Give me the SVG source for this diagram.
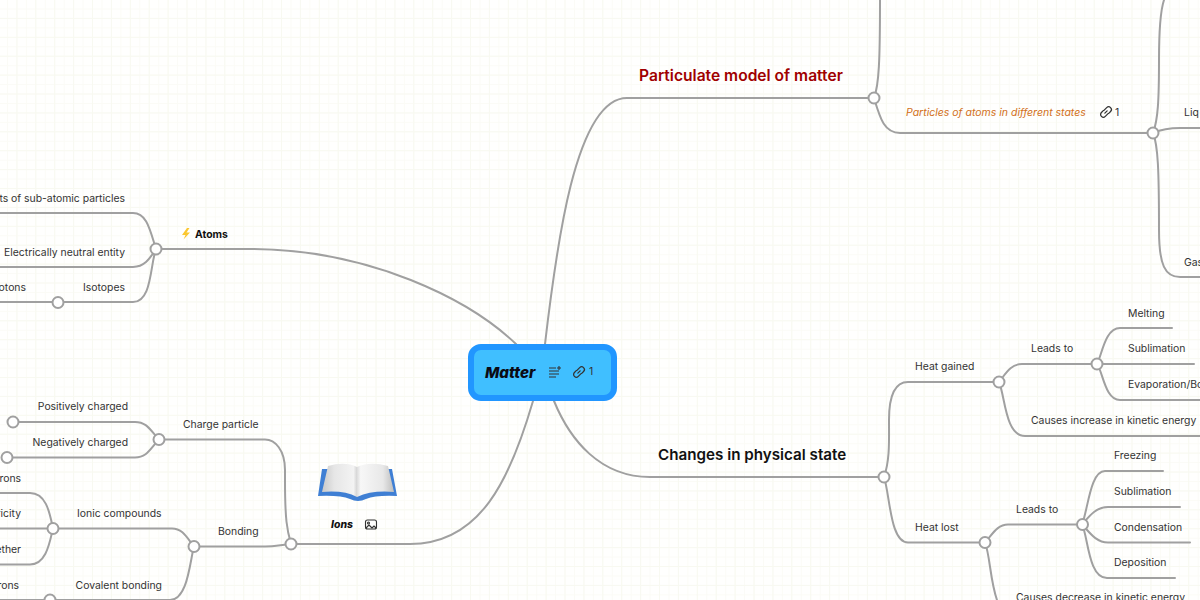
<svg xmlns="http://www.w3.org/2000/svg" width="1200" height="600" viewBox="0 0 1200 600">
<style>
.e{fill:none;stroke:#a0a0a0;stroke-width:2;stroke-linecap:round}
.k{fill:#fff;stroke:#a0a0a0;stroke-width:2}
text{font-family:Inter,"Liberation Sans",sans-serif;font-size:10.400px;fill:#333}
.r{text-anchor:end}
.ic{fill:none;stroke:#333;stroke-width:1.100;stroke-linecap:round;stroke-linejoin:round}
</style>
<defs>
<pattern id="g" width="9.45" height="9.45" patternUnits="userSpaceOnUse" x="-1.5" y="0">
<path d="M9 0V9.45M0 9H9.45" fill="none" stroke="#fbfbf6" stroke-width="1"/>
</pattern>
<pattern id="G" width="18.9" height="18.9" patternUnits="userSpaceOnUse" x="-1.5" y="0">
<path d="M18.400 0V18.900M0 18.400H18.900" fill="none" stroke="#f8f9f1" stroke-width="1"/>
</pattern>
<symbol id="link" viewBox="0 0 14 14" overflow="visible">
<path class="ic" d="M6 8 L8 6 M5.200 5.600 L7.600 3.200 a2.400 2.400 0 0 1 3.400 3.400 L9.400 8.200 M8.800 8.400 L6.400 10.800 a2.400 2.400 0 0 1-3.400-3.400 L4.600 5.800"/>
</symbol>
<linearGradient id="pl" x1="0" y1="0" x2="1" y2="0"><stop offset="0" stop-color="#c9c9c9"/><stop offset=".35" stop-color="#e6e6e6"/><stop offset=".9" stop-color="#f3f3f3"/><stop offset="1" stop-color="#d4d4d4"/></linearGradient>
<linearGradient id="pr" x1="0" y1="0" x2="1" y2="0"><stop offset="0" stop-color="#dcdcdc"/><stop offset=".1" stop-color="#f7f7f7"/><stop offset=".7" stop-color="#e8e8e8"/><stop offset="1" stop-color="#bdbdbd"/></linearGradient>
</defs>
<rect width="1200" height="600" fill="#fffffe"/>
<rect width="1200" height="600" fill="url(#g)"/>
<rect width="1200" height="600" fill="url(#G)"/>
<g id="connectors">
<path class="e" d="M545 344C556 250 575 98 627 98H874"/>
<path class="e" d="M874 98C879 85 880 60 880 0"/>
<path class="e" d="M874 98C880 118 884 133 900 133H1153"/>
<path class="e" d="M1153 133C1158 120 1159 100 1159 60C1159 30 1160 12 1164 0"/>
<path class="e" d="M1153 133C1160 130 1170 128 1180 128H1200"/>
<path class="e" d="M1153 133C1158 145 1159 170 1159 230C1159 265 1165 277 1180 277H1200"/>
<path class="e" d="M516 344C470 300 370 249 250 249H156"/>
<path class="e" d="M156 249C150 230 147 213 133 213H0"/>
<path class="e" d="M156 249C150 258 145 267 133 267H0"/>
<path class="e" d="M156 249C150 265 152 302 133 302H0"/>
<path class="e" d="M533 401C510 480 480 544 410 544H291"/>
<path class="e" d="M291 544C287 530 285 520 285 480V470C285 450 275 439.500 265 439.500H159"/>
<path class="e" d="M291 544C280 545 275 546.500 265 546.500H194"/>
<path class="e" d="M159 439.500C150 430 147 422 135 422H13"/>
<path class="e" d="M159 439.500C150 449 147 457.500 135 457.500H7"/>
<path class="e" d="M194 546.500C187 538 183 528.500 172 528.500H53"/>
<path class="e" d="M194 546.500C190 560 188 600 170 600H0"/>
<path class="e" d="M53 528.500C50 515 47 493 30 493H0"/>
<path class="e" d="M53 528.500H0"/>
<path class="e" d="M53 528.500C50 540 47 564.500 30 564.500H0"/>
<path class="e" d="M554 401C570 440 600 477 650 477H884"/>
<path class="e" d="M884 477C890 460 889 440 889 420C889 395 895 382 908 382H999"/>
<path class="e" d="M999 382C1005 375 1010 364 1022 364H1097"/>
<path class="e" d="M1097 364C1102 355 1105 328 1120 328H1172"/>
<path class="e" d="M1097 364H1194"/>
<path class="e" d="M1097 364C1103 372 1105 400 1120 400H1200"/>
<path class="e" d="M999 382C1005 395 1005 436 1025 436H1200"/>
<path class="e" d="M884 477C890 495 890 542.500 908 542.500H985"/>
<path class="e" d="M985 542.500C992 535 997 524.500 1008 524.500H1082"/>
<path class="e" d="M1082 524.500C1088 510 1090 471 1105 471H1163"/>
<path class="e" d="M1082 524.500C1088 518 1095 507 1108 507H1180"/>
<path class="e" d="M1082 524.500C1088 530 1095 542.500 1108 542.500H1190"/>
<path class="e" d="M1082 524.500C1088 535 1088 578 1107 578H1175"/>
<path class="e" d="M985 542.500C990 555 990 580 997 600"/>
</g>
<g id="n-matter">
<rect x="471" y="347" width="143" height="51" rx="10" fill="#40bfff" stroke="#2196ff" stroke-width="6"/>
<text x="485" y="377.500" style="font-size:15.200px;font-weight:800;font-style:italic;fill:#0b0b14">Matter</text>
<path d="M549 368H556M549 371H559M549 374H559M549 377H556M559 366V370M557 368H561" fill="none" stroke="#333" stroke-width="1.100"/>
<use href="#link" x="571" y="364" width="16" height="16"/>
<text x="589" y="375">1</text>
</g>
<g id="n-particulate"><text x="639" y="81" style="font-size:15.600px;font-weight:600;fill:#a00000">Particulate model of matter</text><circle class="k" cx="874" cy="98" r="5.500"/></g>
<g id="n-states"><text x="906" y="116" style="font-size:10.500px;font-style:italic;fill:#d2701a">Particles of atoms in different states</text><use href="#link" x="1098" y="104" width="16" height="16"/><text x="1115" y="116">1</text><circle class="k" cx="1153" cy="133" r="5.500"/></g>
<g id="n-liquid"><text x="1184" y="116">Liq</text></g>
<g id="n-gas"><text x="1184" y="266">Gas</text></g>
<g id="n-atoms"><path d="M187 228L182 235H185.500L183.500 239.500L190 232.500H186.500L189.500 228Z" fill="#fbc72e"/><text x="195" y="238" style="font-weight:700;fill:#111">Atoms</text><circle class="k" cx="156" cy="249" r="5.500"/></g>
<g id="n-sub"><text class="r" x="125" y="202">ts of sub-atomic particles</text></g>
<g id="n-neutral"><text class="r" x="125" y="256">Electrically neutral entity</text></g>
<g id="n-isotopes"><text class="r" x="125" y="291">Isotopes</text><circle class="k" cx="58" cy="302.500" r="5.500"/></g>
<g id="n-protons"><text class="r" x="26" y="291">otons</text></g>
<g id="n-ions">
<path d="M322 469L318 496Q340 495 350 499Q358 503 366 499Q376 495 397 496L392 469Z" fill="#3f7fd4"/>
<path d="M328 466Q345 461 357 467V497Q344 490 322 492Z" fill="url(#pl)"/>
<path d="M357 467Q370 461 388 466L394 492Q372 490 357 497Z" fill="url(#pr)"/>
<text x="331" y="528" style="font-weight:800;font-style:italic;fill:#111">Ions</text>
<rect x="365.500" y="520" width="11" height="9" rx="2" class="ic"/><circle cx="368.500" cy="523" r="1" class="ic"/><path d="M366 528L369 525L372 528L374 526L376 528" class="ic"/>
<circle class="k" cx="291" cy="544" r="5.500"/></g>
<g id="n-charge"><text x="183" y="428">Charge particle</text><circle class="k" cx="159" cy="439.500" r="5.500"/></g>
<g id="n-pos"><text class="r" x="128" y="410">Positively charged</text><circle class="k" cx="13" cy="422" r="5.500"/></g>
<g id="n-neg"><text class="r" x="128" y="446">Negatively charged</text><circle class="k" cx="7" cy="457.500" r="5.500"/></g>
<g id="n-bonding"><text x="218" y="535">Bonding</text><circle class="k" cx="194" cy="546.500" r="5.500"/></g>
<g id="n-ionic"><text x="77" y="517">Ionic compounds</text><circle class="k" cx="53" cy="528.500" r="5.500"/></g>
<g id="n-f1"><text class="r" x="21" y="482">rons</text></g>
<g id="n-f2"><text class="r" x="21" y="517">ricity</text></g>
<g id="n-f3"><text class="r" x="21" y="553">ether</text></g>
<g id="n-covalent"><text class="r" x="162" y="589">Covalent bonding</text><circle class="k" cx="50" cy="600" r="5.500"/></g>
<g id="n-f4"><text class="r" x="19" y="589">rons</text></g>
<g id="n-changes"><text x="658" y="460" style="font-size:15.200px;font-weight:600;fill:#111">Changes in physical state</text><circle class="k" cx="884" cy="477" r="5.500"/></g>
<g id="n-gained"><text x="915" y="370">Heat gained</text><circle class="k" cx="999" cy="382" r="5.500"/></g>
<g id="n-leads1"><text x="1031" y="352">Leads to</text><circle class="k" cx="1097" cy="364" r="5.500"/></g>
<g id="n-melt"><text x="1128" y="317">Melting</text></g>
<g id="n-sub1"><text x="1128" y="352">Sublimation</text></g>
<g id="n-evap"><text x="1128" y="388">Evaporation/Bo</text></g>
<g id="n-inc"><text x="1031" y="424">Causes increase in kinetic energy</text></g>
<g id="n-lost"><text x="915" y="531">Heat lost</text><circle class="k" cx="985" cy="542.500" r="5.500"/></g>
<g id="n-leads2"><text x="1016" y="513">Leads to</text><circle class="k" cx="1082.500" cy="524.500" r="5.500"/></g>
<g id="n-freeze"><text x="1114" y="459">Freezing</text></g>
<g id="n-sub2"><text x="1114" y="495">Sublimation</text></g>
<g id="n-cond"><text x="1114" y="531">Condensation</text></g>
<g id="n-dep"><text x="1114" y="566">Deposition</text></g>
<g id="n-dec"><text x="1016" y="601">Causes decrease in kinetic energy</text></g>
</svg>
